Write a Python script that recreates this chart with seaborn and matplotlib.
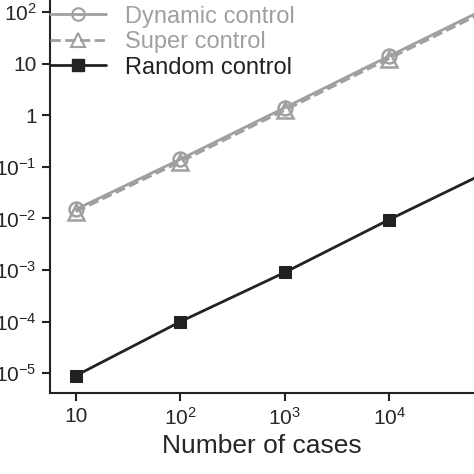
import matplotlib
matplotlib.use("Agg")
import matplotlib.pyplot as plt
import seaborn as sns
import pandas as pd

cases = [10, 100, 1000, 10000]
dynamic = [0.015, 0.14, 1.4, 14]
super_ = [0.0135, 0.125, 1.25, 12.5]
random_ = [9e-6, 1e-4, 9e-4, 0.0095]
x_end = 65000
dynamic_end = 90
super_end = 80
random_end = 0.06

sns.set_theme(style="ticks")
plt.rcParams['font.family'] = ['Liberation Sans', 'DejaVu Sans']
plt.rcParams['mathtext.fontset'] = 'custom'
plt.rcParams['mathtext.rm'] = 'Liberation Sans'
plt.rcParams['mathtext.it'] = 'Liberation Sans'

fig = plt.figure(figsize=(4.74, 4.74), dpi=100)
ax = fig.add_axes([0.105, 0.17, 0.895, 0.83])

c1, c2 = '#a0a0a0', '#222222'
df = pd.DataFrame({'x': cases, 'd': dynamic, 's': super_, 'r': random_})
ax.plot(cases + [x_end], dynamic + [dynamic_end], color=c1, lw=2)
ax.plot(cases + [x_end], super_ + [super_end], color=c1, lw=2, ls='--')
ax.plot(cases + [x_end], random_ + [random_end], color=c2, lw=2)
sns.lineplot(data=df, x='x', y='d', ax=ax, color=c1, lw=0, marker='o', markersize=10,
             markerfacecolor='none', markeredgecolor=c1, markeredgewidth=1.8)
sns.lineplot(data=df, x='x', y='s', ax=ax, color=c1, lw=0, marker='^', markersize=11,
             markerfacecolor='none', markeredgecolor=c1, markeredgewidth=1.8)
sns.lineplot(data=df, x='x', y='r', ax=ax, color=c2, lw=0, marker='s', markersize=9,
             markeredgecolor=c2)
ax.set_xscale('log'); ax.set_yscale('log')
ax.set_xlim(10**0.75, 10**4.81)
ax.set_ylim(10**-5.39, 10**2.23)
ax.set_xticks(cases)
ax.set_xticklabels(['10', '$10^2$', '$10^3$', '$10^4$'])
yt = [1e-5, 1e-4, 1e-3, 1e-2, 1e-1, 1, 10, 100]
ax.set_yticks(yt)
ax.set_yticklabels(['$10^{-5}$', '$10^{-4}$', '$10^{-3}$', '$10^{-2}$', '$10^{-1}$', '1', '10', '$10^2$'])
ax.minorticks_off()
ax.tick_params(labelsize=15, width=1.5, length=6, color='#222222')
for s in ['top', 'right']:
    ax.spines[s].set_visible(False)
for s in ['left', 'bottom']:
    ax.spines[s].set_linewidth(1.5); ax.spines[s].set_color('#222222')
ax.set_xlabel('Number of cases', fontsize=19)
ax.set_ylabel('')

from matplotlib.lines import Line2D
h = [Line2D([], [], color=c1, lw=2, marker='o', mfc='none', ms=9, mew=1.5),
     Line2D([], [], color=c1, lw=2, ls='--', marker='^', mfc='none', ms=10, mew=1.5),
     Line2D([], [], color=c2, lw=2, marker='s', ms=8)]
leg = ax.legend(h, ['Dynamic control', 'Super control', 'Random control'], loc='upper left',
                frameon=False, fontsize=17, handlelength=2.4, bbox_to_anchor=(-0.05, 1.04),
                labelspacing=0.15)
for t, c in zip(leg.get_texts(), [c1, c1, c2]):
    t.set_color(c)
fig.savefig('out.png', dpi=100)
